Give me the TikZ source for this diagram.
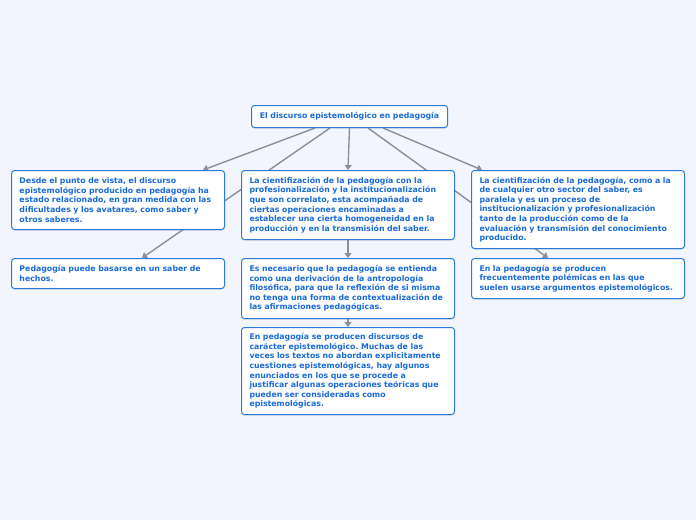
\documentclass[tikz,border=0pt]{standalone}
\usepackage{fontspec}
\setmainfont{DejaVu Sans}
\usetikzlibrary{arrows.meta,shadows,calc}
\definecolor{bgc}{HTML}{F2F5FD}
\definecolor{boxblue}{HTML}{2B7BDD}
\definecolor{txtblue}{HTML}{1A6BD8}
\definecolor{linegray}{HTML}{8A9096}
\pgfdeclarelayer{bglayer}
\pgfdeclarelayer{lines}
\pgfsetlayers{bglayer,lines,main}
\frenchspacing
\tikzset{
  topic/.style={draw=boxblue, line width=1pt, fill=white, rounded corners=3pt,
    anchor=north west, text=txtblue, font=\bfseries\fontsize{7.8}{9.6}\selectfont,
    text width=197pt, inner xsep=8pt, inner ysep=3pt, align=left,
    minimum width=213pt,
    drop shadow={shadow xshift=0pt, shadow yshift=-1.2pt, opacity=0.25, fill=gray}},
  roottopic/.style={topic, text width=180pt, align=center, minimum width=196pt,
    font=\bfseries\fontsize{7.8}{9.6}\selectfont},
  conn/.style={draw=linegray, line width=1.4pt, -{Triangle[width=7pt,length=5pt]}}
}
\begin{document}
\begin{tikzpicture}[x=1pt,y=-1pt]
\begin{pgfonlayer}{bglayer}
\fill[bgc] (0,0) rectangle (696,520);
\end{pgfonlayer}
\useasboundingbox (0,0) rectangle (696,520);

\node[roottopic, minimum height=22pt] (root) at (251,105) {El discurso epistemológico en pedagogía};

\node[topic, minimum height=59pt] (l1) at (11,170) {Desde el punto de vista, el discurso\\
epistemológico producido en pedagogía ha\\
estado relacionado, en gran medida con las\\
dificultades y los avatares, como saber y\\
otros saberes.};

\node[topic, minimum height=30pt] (l2) at (11,258) {Pedagogía puede basarse en un saber de\\
hechos.};

\node[topic, minimum height=69pt] (c1) at (241,170) {La cientifización de la pedagogía con la\\
profesionalización y la institucionalización\\
que son correlato, esta acompañada de\\
ciertas operaciones encaminadas a\\
establecer una cierta homogeneidad en la\\
producción y en la transmisión del saber.};

\node[topic, minimum height=60pt] (c2) at (241,258) {Es necesario que la pedagogía se entienda\\
como una derivación de la antropología\\
filosófica, para que la reflexión de si misma\\
no tenga una forma de contextualización de\\
las afirmaciones pedagógicas.};

\node[topic, minimum height=87pt] (c3) at (241,327) {En pedagogía se producen discursos de\\
carácter epistemológico. Muchas de las\\
veces los textos no abordan explicitamente\\
cuestiones epistemológicas, hay algunos\\
enunciados en los que se procede a\\
justificar algunas operaciones teóricas que\\
pueden ser consideradas como\\
epistemológicas.};

\node[topic, minimum height=78pt] (r1) at (471,170) {La cientifización de la pedagogía, como a la\\
de cualquier otro sector del saber, es\\
paralela y es un proceso de\\
institucionalización y profesionalización\\
tanto de la producción como de la\\
evaluación y transmisión del conocimiento\\
producido.};

\node[topic, minimum height=40pt] (r2) at (471,258) {En la pedagogía se producen\\
frecuentemente polémicas en las que\\
suelen usarse argumentos epistemológicos.};

\begin{pgfonlayer}{lines}
\draw[conn] ($(root.south west)+(64,0)$) -- ($(l1.north west)+(192,0)$);
\draw[conn] ($(root.south west)+(79,0)$) -- ($(l2.north west)+(131,0)$);
\draw[conn] (root.south) -- (c1.north);
\draw[conn] ($(root.south west)+(117,0)$) -- ($(r2.north west)+(77,0)$);
\draw[conn] ($(root.south west)+(132,0)$) -- ($(r1.north west)+(11,0)$);
\draw[conn] (c1.south) -- (c2.north);
\draw[conn] (c2.south) -- (c3.north);
\end{pgfonlayer}
\end{tikzpicture}
\end{document}
